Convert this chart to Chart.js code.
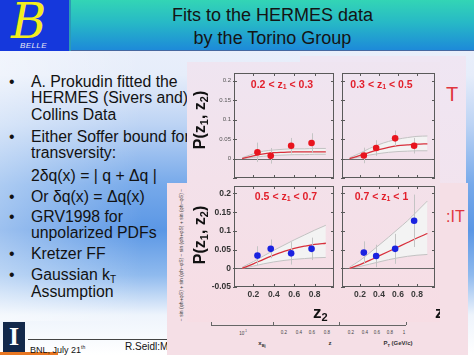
<!DOCTYPE html>
<html>
<head>
<meta charset="utf-8">
<title>Fits to the HERMES data</title>
<script src="https://cdn.jsdelivr.net/npm/chart.js@4.4.1/dist/chart.umd.min.js"></script>
<style>
  html, body { margin: 0; padding: 0; }
  body {
    position: relative; width: 474px; height: 355px; overflow: hidden;
    font-family: "Liberation Sans", Arial, sans-serif; color: #121212;
    background: linear-gradient(180deg, #eef2fc 0px, #e6edfa 75px, #bcd3f4 125px, #76a9ea 185px,
                #5b97e5 230px, #8fbaee 275px, #eef4fc 315px, #ffffff 355px);
  }
  .abs { position: absolute; white-space: nowrap; }
  #hdr { left: 0; top: 0; width: 474px; height: 50px; border-bottom: 1px solid #46679f;
         background: linear-gradient(180deg, #33d5b5 0%, #27b9c6 45%, #1d8ad9 100%); }
  #logo { left: 0; top: 0; width: 69px; height: 51px; background: #1538dc;
          border-right: 2px solid #2c9bb5; overflow: hidden; }
  .ttl { left: 150px; width: 245px; text-align: center; font-size: 18px; line-height: 20px; color: #141414; }
  .ln { left: 31px; font-size: 15.8px; line-height: 18px; }
  .bu { left: 9px; font-size: 15.8px; line-height: 18px; }
  .ln sub { font-size: 10px; vertical-align: -3px; line-height: 0; }
  #backA { left: 300px; top: 56px; width: 166px; height: 266px;
           background: linear-gradient(180deg, #efe6f3, #f5e1ea); }
  #backB { left: 167px; top: 183px; width: 301px; height: 172px; background: #f5dfe6; overflow: hidden; }
  #front { left: 187px; top: 62px; width: 253px; height: 260px; overflow: hidden;
           background: linear-gradient(180deg, #efe5f1 0%, #f3e1ea 45%, #f7dde4 100%); }
  #front canvas { position: absolute; }
  .ytl { font-weight: bold; font-size: 16px; line-height: 18px; color: #111;
         transform: translate(-50%, -50%) rotate(-90deg); }
  .ytl sub, .xtl sub { font-size: 11px; vertical-align: -3px; line-height: 0; }
  .xtl { font-weight: bold; font-size: 17px; line-height: 17px; color: #111; }
  .tiny { font-size: 4.5px; line-height: 5px; color: #444; transform: translateX(-50%); }
  .tinyb { font-size: 6px; line-height: 6px; color: #333; font-weight: bold; transform: translateX(-50%); }
</style>
</head>
<body>

<div id="hdr" class="abs"></div>
<div id="logo" class="abs">
  <div class="abs" style="left:11px;top:-7px;font:italic 48px 'DejaVu Serif',serif;color:#f2ee1e;">B</div>
  <div class="abs" style="left:20px;top:41px;font:italic 8px 'Liberation Sans',Arial;color:#e8e8f2;letter-spacing:0.4px;">BELLE</div>
</div>
<div class="abs ttl" style="top:5px;">Fits to the HERMES data</div>
<div class="abs ttl" style="top:28px;">by the Torino Group</div>

<div class="abs" style="left:0;top:51px;width:190px;height:270px;background:linear-gradient(90deg,rgba(255,255,255,0.4),rgba(255,255,255,0) 75%);"></div>

<div class="abs bu" style="top:72.7px;">•</div>
<div class="abs ln" style="top:72.7px;">A. Prokudin fitted the</div>
<div class="abs ln" style="top:89.3px;">HERMES (Sivers and)</div>
<div class="abs ln" style="top:106px;">Collins Data</div>
<div class="abs bu" style="top:127.7px;">•</div>
<div class="abs ln" style="top:127.7px;">Either Soffer bound for</div>
<div class="abs ln" style="top:144.3px;">transversity:</div>
<div class="abs ln" style="top:166.7px;">2δq(x) = | q + Δq |</div>
<div class="abs bu" style="top:187.7px;">•</div>
<div class="abs ln" style="top:187.7px;">Or δq(x) = Δq(x)</div>
<div class="abs bu" style="top:207.7px;">•</div>
<div class="abs ln" style="top:207.7px;">GRV1998 for</div>
<div class="abs ln" style="top:224.3px;">unpolarized PDFs</div>
<div class="abs bu" style="top:245.3px;">•</div>
<div class="abs ln" style="top:245.3px;">Kretzer FF</div>
<div class="abs bu" style="top:266px;">•</div>
<div class="abs ln" style="top:266px;">Gaussian k<sub>T</sub></div>
<div class="abs ln" style="top:282.7px;">Assumption</div>

<!-- footer -->
<div class="abs" style="left:3px;top:322px;width:22px;height:30px;background:#13294b;color:#fff;font:bold 26px 'Liberation Serif',serif;text-align:center;line-height:30px;">I</div>
<div class="abs" style="left:0;top:352px;width:58px;height:3px;background:#e87722;"></div>
<div class="abs" style="left:28px;top:339px;width:140px;height:1px;background:#444;"></div>
<div class="abs" style="left:30px;top:342px;font-size:9px;line-height:10px;">BNL, July 21<sup style="font-size:5px;">th</sup></div>
<div class="abs" style="left:125px;top:341px;font-size:10px;line-height:11px;">R.Seidl:Me</div>

<!-- slides behind the fit figure -->
<div id="backA" class="abs">
  <div class="abs" style="left:146px;top:28px;font-size:20px;line-height:20px;color:#e0363e;">T</div>
</div>
<div id="backB" class="abs">
  <div class="abs" style="left:279px;top:26px;font-size:16px;line-height:16px;color:#e0363e;">:IT</div>
  <div class="abs" style="left:14px;top:72px;font-size:5px;line-height:5px;color:#444;transform:translate(-50%,-50%) rotate(-90deg);">− sin (φh+φS) + sin (φh−φS) − sin (φh+φS) + sin (φh−φS) −</div>
  <div class="abs" style="left:44px;top:142px;width:195px;height:1px;background:#666;"></div>
  <div class="abs" style="left:44px;top:139px;width:1px;height:3px;background:#666;"></div>
  <div class="abs" style="left:106px;top:139px;width:1px;height:3px;background:#666;"></div>
  <div class="abs" style="left:172px;top:139px;width:1px;height:3px;background:#666;"></div>
  <div class="abs" style="left:239px;top:139px;width:1px;height:3px;background:#666;"></div>
  <div class="abs tiny" style="left:76px;top:146px;">10<sup style="font-size:3px;">-1</sup></div>
  <div class="abs tiny" style="left:117px;top:147px;">0.2</div>
  <div class="abs tiny" style="left:132px;top:147px;">0.4</div>
  <div class="abs tiny" style="left:145px;top:147px;">0.6</div>
  <div class="abs tiny" style="left:160px;top:147px;">0.8</div>
  <div class="abs tiny" style="left:184px;top:147px;">0.2</div>
  <div class="abs tiny" style="left:198px;top:147px;">0.4</div>
  <div class="abs tiny" style="left:210px;top:147px;">0.6</div>
  <div class="abs tiny" style="left:223px;top:147px;">0.8</div>
  <div class="abs tiny" style="left:237px;top:147px;">1</div>
  <div class="abs tinyb" style="left:95px;top:157px;">x<sub style="font-size:4px;">Bj</sub></div>
  <div class="abs tinyb" style="left:163px;top:157px;">z</div>
  <div class="abs tinyb" style="left:231px;top:157px;">P<sub style="font-size:4px;">T</sub> (GeV/c)</div>
</div>

<!-- the fit figure -->
<div id="front" class="abs">
  <canvas id="pA" width="151" height="120" style="left:0;top:0;"></canvas>
  <canvas id="pB" width="101" height="120" style="left:151px;top:0;"></canvas>
  <canvas id="pC" width="151" height="140" style="left:0;top:120px;"></canvas>
  <canvas id="pD" width="101" height="140" style="left:151px;top:120px;"></canvas>
  <div class="abs ytl" style="left:13px;top:58px;">P(z<sub>1</sub>, z<sub>2</sub>)</div>
  <div class="abs ytl" style="left:13px;top:173px;">P(z<sub>1</sub>, z<sub>2</sub>)</div>
  <div class="abs xtl" style="left:126px;top:242px;">z<sub>2</sub></div>
  <div class="abs xtl" style="left:248px;top:242px;">z<sub>2</sub></div>
</div>

<script>
// shared axis values
const Z2_GRID   = [0.09, 0.2, 0.3, 0.4, 0.5, 0.6, 0.7, 0.8, 0.91];
const Z2_POINTS = [0.24, 0.37, 0.57, 0.77];
const X_TICKS   = [0.2, 0.4, 0.6, 0.8];
const Y_TICKS   = [-0.05, 0, 0.05, 0.1, 0.15, 0.2];

// 0.2 < z1 < 0.3
const FIT_A   = [0, 0.007, 0.012, 0.015, 0.016, 0.017, 0.017, 0.017, 0.017];
const UPPER_A = [0.002, 0.012, 0.019, 0.022, 0.024, 0.025, 0.025, 0.026, 0.026];
const LOWER_A = [0, 0.003, 0.006, 0.008, 0.009, 0.010, 0.010, 0.011, 0.011];
const DATA_A  = [0.016, 0.007, 0.033, 0.040];
const ERR_A   = [0.025, 0.02, 0.02, 0.025];

// 0.3 < z1 < 0.5
const FIT_B   = [0, 0.008, 0.016, 0.023, 0.029, 0.033, 0.035, 0.037, 0.038];
const UPPER_B = [0.002, 0.014, 0.026, 0.036, 0.044, 0.050, 0.054, 0.057, 0.058];
const LOWER_B = [0, 0.004, 0.009, 0.013, 0.016, 0.018, 0.019, 0.020, 0.020];
const DATA_B  = [0.008, 0.027, 0.052, 0.033];
const ERR_B   = [0.02, 0.02, 0.02, 0.02];

// 0.5 < z1 < 0.7
const FIT_C   = [0, 0.012, 0.024, 0.035, 0.045, 0.053, 0.059, 0.064, 0.067];
const UPPER_C = [0.003, 0.018, 0.033, 0.048, 0.062, 0.076, 0.089, 0.102, 0.115];
const LOWER_C = [0, 0.006, 0.012, 0.017, 0.021, 0.024, 0.026, 0.028, 0.029];
const DATA_C  = [0.034, 0.052, 0.040, 0.052];
const ERR_C   = [0.025, 0.025, 0.03, 0.03];

// 0.7 < z1 < 1
const FIT_D   = [0, 0.010, 0.021, 0.033, 0.045, 0.057, 0.069, 0.081, 0.093];
const UPPER_D = [0.003, 0.021, 0.041, 0.062, 0.083, 0.105, 0.127, 0.152, 0.180];
const LOWER_D = [0, 0.005, 0.011, 0.017, 0.023, 0.028, 0.032, 0.035, 0.037];
const DATA_D  = [0.042, 0.033, 0.052, 0.127];
const ERR_D   = [0.03, 0.03, 0.04, 0.07];

// frame, zero line, inner ticks, error bars and the z1 range label
const panelDecor = {
    id: "panelDecor",
    beforeDatasetsDraw(chart) {
        const { ctx, chartArea: a, scales: { y } } = chart;
        const y0 = Math.round(y.getPixelForValue(0)) + 0.5;
        ctx.save();
        ctx.strokeStyle = "#6a6a6a";
        ctx.lineWidth = 1;
        ctx.beginPath();
        ctx.moveTo(a.left, y0);
        ctx.lineTo(a.right, y0);
        ctx.stroke();
        ctx.restore();
    },
    beforeDatasetDraw(chart, args, opts) {
        if (args.index !== 3) return;
        const { ctx, scales: { x, y } } = chart;
        ctx.save();
        ctx.strokeStyle = "#c4c4c4";
        ctx.lineWidth = 1;
        chart.data.datasets[3].data.forEach((p, i) => {
            const px = Math.round(x.getPixelForValue(p.x)) + 0.5;
            ctx.beginPath();
            ctx.moveTo(px, y.getPixelForValue(p.y + opts.errors[i]));
            ctx.lineTo(px, y.getPixelForValue(p.y - opts.errors[i]));
            ctx.stroke();
        });
        ctx.restore();
    },
    afterDraw(chart, args, opts) {
        const { ctx, chartArea: a, scales: { x, y } } = chart;
        ctx.save();
        ctx.strokeStyle = "#5a5a5a";
        ctx.lineWidth = 1;
        ctx.strokeRect(a.left + 0.5, a.top + 0.5, a.right - a.left - 1, a.bottom - a.top - 1);
        ctx.beginPath();
        X_TICKS.forEach(v => {
            const px = Math.round(x.getPixelForValue(v)) + 0.5;
            ctx.moveTo(px, a.bottom); ctx.lineTo(px, a.bottom - 3);
            ctx.moveTo(px, a.top); ctx.lineTo(px, a.top + 3);
        });
        Y_TICKS.forEach(v => {
            const py = Math.round(y.getPixelForValue(v)) + 0.5;
            ctx.moveTo(a.left - 1, py); ctx.lineTo(a.left + 3, py);
            ctx.moveTo(a.right, py); ctx.lineTo(a.right - 3, py);
        });
        ctx.stroke();

        // label like "0.2 < z1 < 0.3" with a subscript 1
        const big = "bold 10.5px 'Liberation Sans', Arial";
        const small = "bold 7px 'Liberation Sans', Arial";
        const parts = [[opts.label[0], big, 0], ["1", small, 2.5], [opts.label[1], big, 0]];
        let w = 0;
        parts.forEach(p => { ctx.font = p[1]; w += ctx.measureText(p[0]).width; });
        let cx = (a.left + a.right) / 2 + opts.dx - w / 2;
        ctx.fillStyle = "#e2202c";
        ctx.textBaseline = "middle";
        parts.forEach(p => {
            ctx.font = p[1];
            ctx.fillText(p[0], cx, a.top + opts.dy + p[2]);
            cx += ctx.measureText(p[0]).width;
        });
        ctx.restore();
    }
};

function createPanel(canvasId, panel) {
    const onGrid = vals => Z2_GRID.map((z, i) => ({ x: z, y: vals[i] }));
    const curve = { pointRadius: 0, cubicInterpolationMode: "monotone" };

    // Chart.js paints the lowest "order" last, so points end up on top of the band
    new Chart(document.getElementById(canvasId), {
        type: "line",
        data: {
            datasets: [
                { ...curve, order: 4, data: onGrid(panel.upper), borderColor: "#c2c2c2", borderWidth: 1,
                  backgroundColor: "#f3f3f3", fill: "+1" },
                { ...curve, order: 3, data: onGrid(panel.lower), borderColor: "#c2c2c2", borderWidth: 1, fill: false },
                { ...curve, order: 2, data: onGrid(panel.fit), borderColor: "#d8303c", borderWidth: 1.3, fill: false },
                {
                    type: "scatter",
                    order: 1,
                    data: Z2_POINTS.map((z, i) => ({ x: z, y: panel.points[i] })),
                    backgroundColor: panel.color,
                    borderWidth: 0,
                    pointRadius: 3.3
                }
            ]
        },
        options: {
            responsive: false,
            animation: false,
            devicePixelRatio: 1,
            layout: { padding: { top: panel.padTop, left: 0, right: 0, bottom: 0 } },
            plugins: {
                legend: { display: false },
                tooltip: { enabled: false },
                panelDecor: { label: panel.label, errors: panel.errors, dx: panel.dx, dy: panel.dy }
            },
            scales: {
                x: {
                    type: "linear",
                    min: 0.01,
                    max: 0.99,
                    display: panel.showX,
                    grid: { display: false, drawTicks: false },
                    border: { display: false },
                    ticks: {
                        autoSkip: false,
                        maxRotation: 0,
                        padding: 3,
                        color: "#3a3a3a",
                        font: { size: 8.5, weight: "bold" },
                        callback: v => String(v)
                    },
                    afterBuildTicks: s => { s.ticks = X_TICKS.map(v => ({ value: v })); },
                    afterFit: s => { if (panel.showX) s.height = 35; }
                },
                y: {
                    type: "linear",
                    min: -0.05,
                    max: 0.22,
                    display: panel.showY,
                    grid: { display: false, drawTicks: false },
                    border: { display: false },
                    ticks: {
                        autoSkip: false,
                        padding: 3,
                        color: panel.showX ? "#333" : "#555",
                        font: panel.showX ? { size: 8.5, weight: "bold" } : { size: 6 },
                        // top row leaves the -0.05 tick unlabelled
                        callback: v => (!panel.showX && v < 0) ? "" : String(v)
                    },
                    afterBuildTicks: s => { s.ticks = Y_TICKS.map(v => ({ value: v })); },
                    afterFit: s => {
                        if (panel.showY) s.width = 47;
                        s.paddingTop = 0;
                        s.paddingBottom = 0;
                    }
                }
            }
        },
        plugins: [panelDecor]
    });
}

createPanel("pA", { label: ["0.2 < z", " < 0.3"], fit: FIT_A, upper: UPPER_A, lower: LOWER_A,
    points: DATA_A, errors: ERR_A, color: "#e8141e", showX: false, showY: true, padTop: 11, dx: -2, dy: 12 });
createPanel("pB", { label: ["0.3 < z", " < 0.5"], fit: FIT_B, upper: UPPER_B, lower: LOWER_B,
    points: DATA_B, errors: ERR_B, color: "#e8141e", showX: false, showY: false, padTop: 11, dx: -7, dy: 12 });
createPanel("pC", { label: ["0.5 < z", " < 0.7"], fit: FIT_C, upper: UPPER_C, lower: LOWER_C,
    points: DATA_C, errors: ERR_C, color: "#1a22e0", showX: true, showY: true, padTop: 0, dx: 2, dy: 11 });
createPanel("pD", { label: ["0.7 < z", " < 1"], fit: FIT_D, upper: UPPER_D, lower: LOWER_D,
    points: DATA_D, errors: ERR_D, color: "#1a22e0", showX: true, showY: false, padTop: 0, dx: -7, dy: 11 });
</script>
</body>
</html>
